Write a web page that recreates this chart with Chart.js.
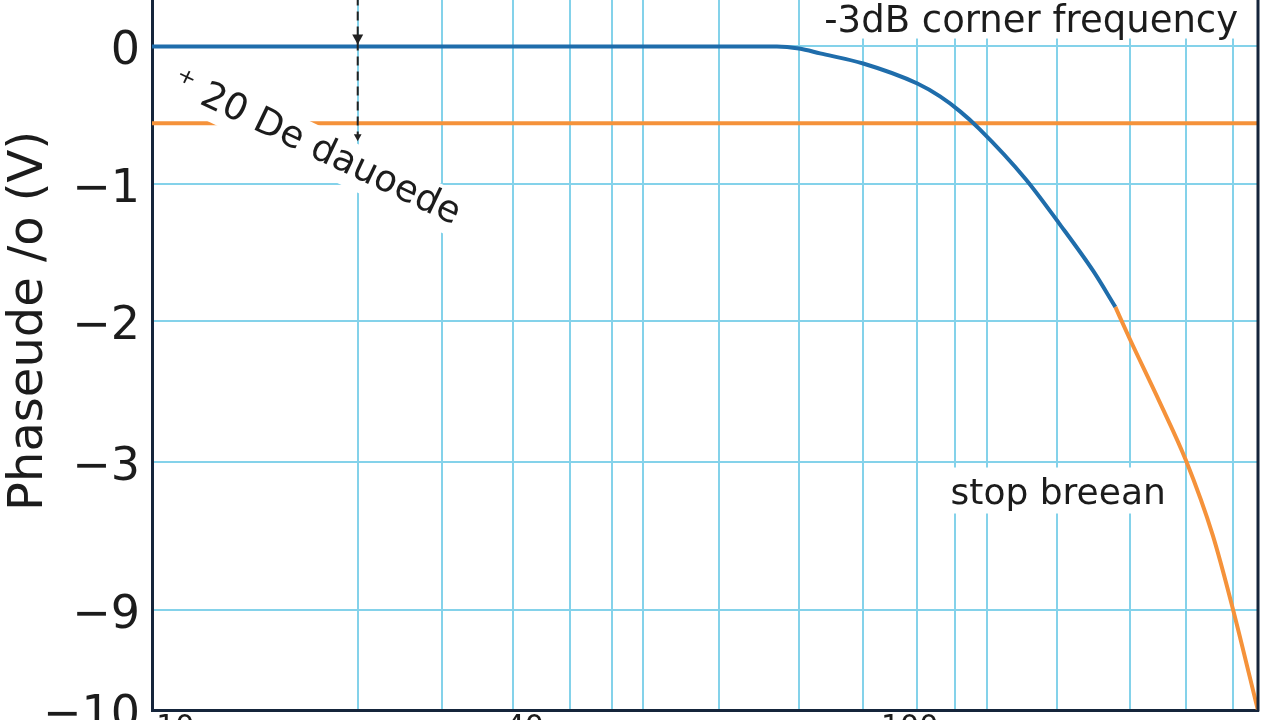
<!DOCTYPE html>
<html>
<head>
<meta charset="utf-8">
<script src="https://cdn.jsdelivr.net/npm/chart.js@4"></script>
<style>
  html, body { margin: 0; padding: 0; background: #fff; overflow: hidden; }
  #wrap { position: relative; width: 1280px; height: 720px; overflow: hidden; }
  #chart { position: absolute; left: 0; top: -58px; }
</style>
</head>
<body>
<div id="wrap"><canvas id="chart" width="1280" height="818"></canvas></div>
<script>
// x runs 0..100 across the plot; y is in grid-row units (labels are not evenly spaced)
const gridX = [18.6, 26.2, 32.6, 37.8, 41.6, 44.4, 51.3, 58.5, 64.3, 69.2, 72.6, 75.5, 81.8, 88.4, 93.5, 97.7];
const xLabelPos = [2.1, 33.7, 68.5];
const xLabels = ["10", "40", "100"];
const yTickPos = [0, -1, -2, -3.03, -4.11, -4.836];
const yTickLabels = ["0", "−1", "−2", "−3", "−9", "−10"];

const passX = [0, 49.5, 56.5, 58.5, 60.4, 64.3, 69.2, 71.25, 73.06, 74.8, 79.0, 82.0, 85.1, 87.1];
const passY = [0, 0, 0, -0.015, -0.05, -0.124, -0.27, -0.364, -0.473, -0.6, -0.967, -1.287, -1.636, -1.898];
const stopX = [87.1, 88.4, 91.1, 93.5, 95.9, 97.7, 100];
const stopY = [-1.898, -2.13, -2.59, -3.02, -3.56, -4.09, -4.84];
const refX = [0, 100];
const refY = [-0.56, -0.56];

const gridBlue = "#84d2ea";
const axisDark = "#15253b";
const textColor = "#1c1c1c";
const font = "DejaVu Sans";

function points(xs, ys) {
  return xs.map((v, i) => ({ x: v, y: ys[i] }));
}

function whiteBox(ctx, text, x, y, pad) {
  const m = ctx.measureText(text);
  ctx.fillStyle = "#fff";
  ctx.fillRect(x - pad[3], y - m.actualBoundingBoxAscent - pad[0],
    m.width + pad[1] + pad[3], m.actualBoundingBoxAscent + m.actualBoundingBoxDescent + pad[0] + pad[2]);
}

function arrowHead(ctx, x, y, size) {
  ctx.beginPath();
  ctx.moveTo(x, y);
  ctx.lineTo(x - size * 0.55, y - size);
  ctx.lineTo(x + size * 0.55, y - size);
  ctx.closePath();
  ctx.fill();
}

const notes = {
  id: "notes",
  afterDatasetsDraw(chart) {
    const { ctx, chartArea, scales: { x, y } } = chart;
    ctx.save();

    // right frame line
    ctx.strokeStyle = axisDark;
    ctx.lineWidth = 3;
    ctx.beginPath();
    ctx.moveTo(chartArea.right, chartArea.top);
    ctx.lineTo(chartArea.right, chartArea.bottom + 1.5);
    ctx.stroke();

    // -3dB corner label, top right
    ctx.font = "37px '" + font + "'";
    ctx.textBaseline = "alphabetic";
    const corner = "-3dB corner frequency";
    const cw = ctx.measureText(corner).width;
    const cx = x.getPixelForValue(98.2) - cw;
    const cy = y.getPixelForValue(0.109);
    ctx.fillStyle = "#fff";
    ctx.fillRect(cx - 11, chartArea.top, cw + 22, cy + 7 - chartArea.top);
    ctx.fillStyle = textColor;
    ctx.fillText(corner, cx, cy);

    // stop band label
    ctx.font = "36px '" + font + "'";
    const stop = "stop breean";
    const sx = x.getPixelForValue(72.2);
    const sy = y.getPixelForValue(-3.331);
    whiteBox(ctx, stop, sx, sy, [9, 10, 3, 20]);
    ctx.fillStyle = textColor;
    ctx.fillText(stop, sx, sy);

    // slanted slope label
    ctx.save();
    ctx.translate(x.getPixelForValue(2.0), y.getPixelForValue(-0.25));
    ctx.rotate(25.5 * Math.PI / 180);
    ctx.font = "37px '" + font + "'";
    ctx.textBaseline = "middle";
    const slope = "⁺ 20 De dauoede";
    const lw = ctx.measureText(slope).width;
    ctx.fillStyle = "#fff";
    ctx.fillRect(24, -22, lw - 24, 44);
    ctx.fillStyle = textColor;
    ctx.fillText(slope, 0, 0);
    ctx.restore();

    // dashed marker with arrows
    const mx = x.getPixelForValue(18.6);
    const my0 = y.getPixelForValue(0);
    const my1 = y.getPixelForValue(-0.69);
    ctx.strokeStyle = "#222";
    ctx.fillStyle = "#222";
    ctx.lineWidth = 2;
    ctx.setLineDash([9, 6]);
    ctx.beginPath();
    ctx.moveTo(mx, chartArea.top);
    ctx.lineTo(mx, my1 - 4);
    ctx.stroke();
    ctx.setLineDash([]);
    arrowHead(ctx, mx, my0 - 2, 10);
    arrowHead(ctx, mx, my1, 7);

    ctx.restore();
  },
  afterDraw(chart) {
    const { ctx, scales: { y } } = chart;
    ctx.save();
    ctx.translate(30, y.getPixelForValue(-2));
    ctx.rotate(-Math.PI / 2);
    ctx.font = "48px '" + font + "'";
    ctx.textAlign = "center";
    ctx.textBaseline = "middle";
    ctx.fillStyle = textColor;
    ctx.fillText("Phaseude /o (V)", 0, 0);
    ctx.restore();
  }
};

new Chart(document.getElementById("chart"), {
  type: "line",
  data: {
    datasets: [
      {
        data: points(passX, passY),
        borderColor: "#1f6dab",
        borderWidth: 4,
        pointRadius: 0,
        cubicInterpolationMode: "monotone"
      },
      {
        data: points(stopX, stopY),
        borderColor: "#f5923a",
        borderWidth: 4,
        pointRadius: 0,
        cubicInterpolationMode: "monotone"
      },
      {
        data: points(refX, refY),
        borderColor: "#f5923a",
        borderWidth: 4,
        pointRadius: 0
      }
    ]
  },
  options: {
    responsive: false,
    animation: false,
    layout: { padding: { top: 30, right: 22, left: 0, bottom: 0 } },
    plugins: {
      legend: { display: false },
      tooltip: { enabled: false }
    },
    scales: {
      x: {
        type: "linear",
        min: 0,
        max: 100,
        afterFit(scale) { scale.height = 50; },
        afterBuildTicks(scale) {
          scale.ticks = gridX.concat(xLabelPos).sort((a, b) => a - b).map(v => ({ value: v }));
        },
        ticks: {
          autoSkip: false,
          maxRotation: 0,
          padding: 0,
          color: textColor,
          font: { family: font, size: 30 },
          callback: v => {
            const i = xLabelPos.indexOf(v);
            return i >= 0 ? xLabels[i] : "";
          }
        },
        grid: {
          color: c => (c.tick && xLabelPos.includes(c.tick.value)) ? "rgba(0,0,0,0)" : gridBlue,
          lineWidth: 2,
          drawTicks: false
        },
        border: { color: axisDark, width: 3 }
      },
      y: {
        type: "linear",
        min: -4.836,
        max: 0.473,
        afterFit(scale) { scale.width = 152; },
        afterBuildTicks(scale) {
          scale.ticks = yTickPos.map(v => ({ value: v }));
        },
        ticks: {
          autoSkip: false,
          padding: 12,
          labelOffset: 6,
          color: textColor,
          font: { family: font, size: 46 },
          callback: (v, i) => yTickLabels[i]
        },
        grid: { color: gridBlue, lineWidth: 2, drawTicks: false },
        border: { color: axisDark, width: 3 }
      }
    }
  },
  plugins: [notes]
});
</script>
</body>
</html>
